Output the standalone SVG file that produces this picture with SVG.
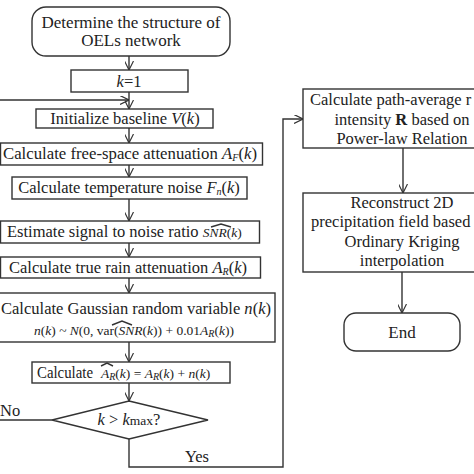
<svg xmlns="http://www.w3.org/2000/svg" width="474" height="474" viewBox="0 0 474 474">
<defs>
<marker id="arr" viewBox="0 0 10 10" refX="10" refY="5" markerWidth="9" markerHeight="9" markerUnits="userSpaceOnUse" orient="auto">
<path d="M0,0 L10,5 L0,10" fill="none" stroke="#333" stroke-width="1.3"/>
</marker>
<style>
.b{fill:#fff;stroke:#333;stroke-width:1.4}
.c{fill:none;stroke:#333;stroke-width:1.4}
text{font-family:"Liberation Serif","Times New Roman",serif;font-size:16.5px;fill:#222}
.m{text-anchor:middle}
.i{font-style:italic}
.s{font-size:10px}
.f{font-size:13.5px}
.t{font-size:17px}
</style>
</defs>
<rect width="474" height="474" fill="#fff"/>
<g id="connectors">
<path class="c" d="M129,56 V70" marker-end="url(#arr)"/>
<path class="c" d="M129,92 V109" marker-end="url(#arr)"/>
<path class="c" d="M129,128 V143" marker-end="url(#arr)"/>
<path class="c" d="M129,165 V177" marker-end="url(#arr)"/>
<path class="c" d="M129,199 V221" marker-end="url(#arr)"/>
<path class="c" d="M129,243 V257" marker-end="url(#arr)"/>
<path class="c" d="M129,278 V293" marker-end="url(#arr)"/>
<path class="c" d="M129,342 V362" marker-end="url(#arr)"/>
<path class="c" d="M129,383 V401" marker-end="url(#arr)"/>
<path class="c" d="M52,420 H-2 V100 H129" marker-end="url(#arr)"/>
<path class="c" d="M129,439 V467 H283 V119 H303" marker-end="url(#arr)"/>
<path class="c" d="M403,148 V193" marker-end="url(#arr)"/>
<path class="c" d="M402,272 V313" marker-end="url(#arr)"/>
<text x="0" y="416">No</text>
<text x="185" y="462">Yes</text>
</g>
<g id="start">
<rect class="b" x="32" y="7" width="198" height="49" rx="14"/>
<text class="m t" x="131" y="28">Determine the structure of</text>
<text class="m t" x="131" y="46">OELs network</text>
</g>
<g id="k1">
<rect class="b" x="71" y="70" width="117" height="22"/>
<text class="m" x="129" y="87"><tspan class="i">k</tspan>=1</text>
</g>
<g id="init">
<rect class="b" x="36" y="109" width="177" height="19"/>
<text class="m" x="125" y="124">Initialize baseline <tspan class="i">V</tspan>(<tspan class="i">k</tspan>)</text>
</g>
<g id="freespace">
<rect class="b" x="0.5" y="143" width="262" height="22"/>
<text x="3" y="159" textLength="254" lengthAdjust="spacingAndGlyphs">Calculate free-space attenuation <tspan class="i">A</tspan><tspan class="i s" dy="2">F</tspan><tspan dy="-2">(</tspan><tspan class="i">k</tspan>)</text>
</g>
<g id="temp">
<rect class="b" x="12" y="177" width="235" height="22"/>
<text class="m" x="129" y="193">Calculate temperature noise <tspan class="i">F</tspan><tspan class="i s" dy="2">n</tspan><tspan dy="-2">(</tspan><tspan class="i">k</tspan>)</text>
</g>
<g id="snr">
<rect class="b" x="0.5" y="221" width="259" height="22"/>
<text x="7" y="237">Estimate signal to noise ratio <tspan class="i f">SNR</tspan><tspan class="f">(</tspan><tspan class="i f">k</tspan><tspan class="f">)</tspan></text>
<path class="c" d="M211,227 L221,224 L231,227" stroke-width="0.8"/>
</g>
<g id="rain">
<rect class="b" x="0.5" y="257" width="260" height="21"/>
<text x="9" y="273">Calculate true rain attenuation <tspan class="i">A</tspan><tspan class="i s" dy="2">R</tspan><tspan dy="-2">(</tspan><tspan class="i">k</tspan>)</text>
</g>
<g id="gauss">
<rect class="b" x="-2" y="293" width="277" height="49"/>
<text x="1" y="314" textLength="270" lengthAdjust="spacingAndGlyphs">Calculate Gaussian random  variable <tspan class="i">n</tspan>(<tspan class="i">k</tspan>)</text>
<text class="m f" x="134" y="335"><tspan class="i">n</tspan>(<tspan class="i">k</tspan>) ~ <tspan class="i">N</tspan>(0, var(<tspan class="i">SNR</tspan>(<tspan class="i">k</tspan>)) + 0.01<tspan class="i">A</tspan><tspan class="i s" dy="2">R</tspan><tspan dy="-2">(</tspan><tspan class="i">k</tspan>))</text>
<path class="c" d="M112,325 L122,321 L132,325" stroke-width="0.8"/>
</g>
<g id="calc">
<rect class="b" x="32" y="362" width="198" height="21"/>
<text x="37" y="378" textLength="56" lengthAdjust="spacingAndGlyphs">Calculate</text>
<text class="f" x="101" y="378"><tspan class="i">A</tspan><tspan class="i s" dy="2">R</tspan><tspan dy="-2">(</tspan><tspan class="i">k</tspan>) = <tspan class="i">A</tspan><tspan class="i s" dy="2">R</tspan><tspan dy="-2">(</tspan><tspan class="i">k</tspan>) + <tspan class="i">n</tspan>(<tspan class="i">k</tspan>)</text>
<path class="c" d="M101,366 L107,363 L113,366" stroke-width="0.8"/>
</g>
<g id="decision">
<polygon class="b" points="129,401 208,420 129,439 52,420"/>
<text class="m" x="129" y="425"><tspan class="i">k</tspan> &gt; <tspan class="i">k</tspan><tspan class="f">max</tspan>?</text>
</g>
<g id="pathavg">
<rect class="b" x="303" y="89" width="200" height="59"/>
<text x="310" y="105">Calculate path-average r</text>
<text class="m" x="402" y="125">intensity <tspan font-weight="bold">R</tspan> based on</text>
<text class="m" x="402" y="144">Power-law Relation</text>
</g>
<g id="reconstruct">
<rect class="b" x="303" y="193" width="200" height="79"/>
<text class="m" x="402" y="208">Reconstruct 2D</text>
<text x="311" y="227">precipitation field based</text>
<text class="m" x="402" y="247">Ordinary Kriging</text>
<text class="m" x="402" y="266">interpolation</text>
</g>
<g id="end">
<rect class="b" x="344" y="313" width="116" height="38" rx="12"/>
<text class="m t" x="402" y="338">End</text>
</g>
</svg>
